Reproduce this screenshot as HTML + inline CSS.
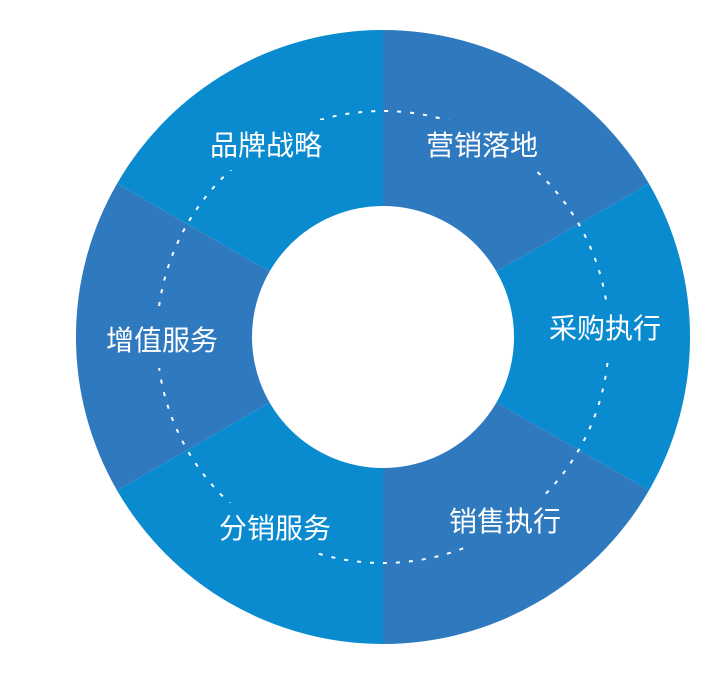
<!DOCTYPE html>
<html><head><meta charset="utf-8"><style>body{margin:0;background:#fff}svg{display:block}</style></head>
<body>
<svg width="721" height="687" viewBox="0 0 721 687" xmlns="http://www.w3.org/2000/svg">
<defs>
<mask id="m"><rect width="721" height="687" fill="#fff"/>
<rect x="195" y="120" width="145" height="50" fill="#000"/>
<rect x="410" y="120" width="145" height="50" fill="#000"/>
<rect x="535" y="300" width="140" height="55" fill="#000"/>
<rect x="95" y="313" width="135" height="55" fill="#000"/>
<rect x="205" y="503" width="140" height="50" fill="#000"/>
<rect x="435" y="496" width="140" height="50" fill="#000"/>
</mask>
</defs>
<g transform="translate(383,337)">
<path d="M0 0 L0 -307 A307 307 0 0 1 265.9 -153.5 Z" fill="#2f79bf"/>
<path d="M0 0 L265.9 -153.5 A307 307 0 0 1 265.9 153.5 Z" fill="#0a8bd0"/>
<path d="M0 0 L265.9 153.5 A307 307 0 0 1 0 307 Z" fill="#2f79bf"/>
<path d="M0 0 L0 307 A307 307 0 0 1 -265.9 153.5 Z" fill="#0a8bd0"/>
<path d="M0 0 L-265.9 153.5 A307 307 0 0 1 -265.9 -153.5 Z" fill="#2f79bf"/>
<path d="M0 0 L-265.9 -153.5 A307 307 0 0 1 0 -307 Z" fill="#0a8bd0"/>
<circle r="131" fill="#fff"/>
</g>
<circle cx="383" cy="337" r="226" fill="none" stroke="#fff" stroke-width="2" stroke-dasharray="4 9" mask="url(#m)"/>
<g font-family="'Liberation Sans','Noto Sans CJK SC',sans-serif" font-size="28" fill="#fff" text-anchor="middle">
<text x="266" y="155">品牌战略</text>
<text x="482" y="155">营销落地</text>
<text x="605" y="338">采购执行</text>
<text x="162" y="350">增值服务</text>
<text x="275" y="538">分销服务</text>
<text x="505" y="531">销售执行</text>
</g>
</svg>
</body></html>
